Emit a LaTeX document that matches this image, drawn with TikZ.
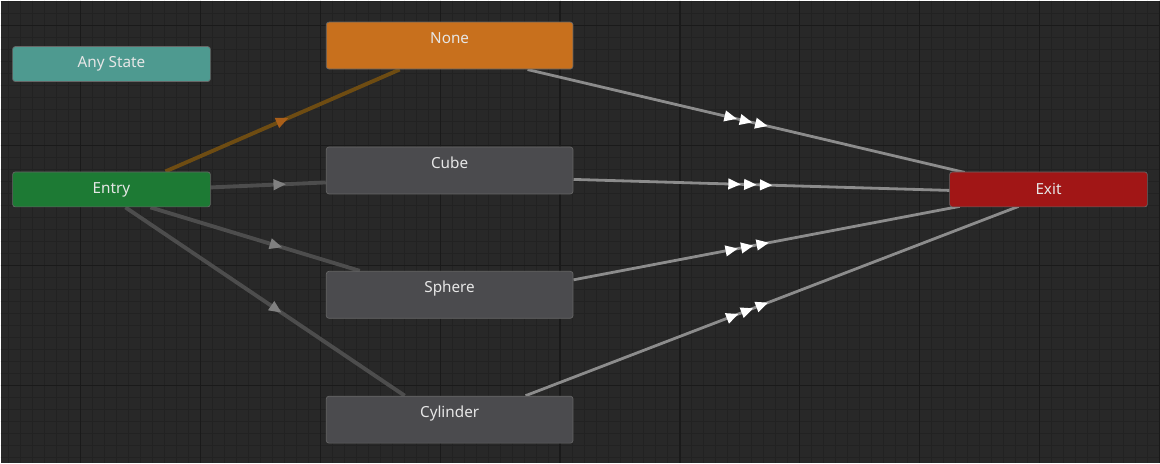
\documentclass[tikz,border=0pt]{standalone}
\usepackage{fontspec}
\setmainfont{Noto Sans}
\usetikzlibrary{calc,decorations.markings}
\definecolor{bg}{HTML}{282828}
\definecolor{gmin}{HTML}{222222}
\definecolor{gmaj}{HTML}{1A1A1A}
\definecolor{teal}{HTML}{4E9A90}
\definecolor{entryc}{HTML}{1D7A34}
\definecolor{nonec}{HTML}{C8701D}
\definecolor{grayc}{HTML}{4B4B4E}
\definecolor{exitc}{HTML}{A11616}
\definecolor{txt}{HTML}{E6E6E6}
\definecolor{edgel}{HTML}{8C8C8C}
\definecolor{edged}{HTML}{4D4D4D}
\definecolor{edgeo}{HTML}{6E4C12}
\begin{document}
\begin{tikzpicture}[x=0.02cm,y=-0.02cm,
  state/.style={draw=black!60,line width=0.4pt,rounded corners=1.5pt,minimum height=0.7cm,minimum width=3.96cm,font=\fontsize{8.7}{10}\selectfont,text=txt,inner sep=0pt},
  big/.style={state,minimum height=0.94cm,minimum width=4.94cm,text depth=0.31cm},
  dtri/.style 2 args={decoration={markings,mark=at position #1 with {\fill[#2] (3.5pt,0)--(-3.5pt,3.2pt)--(-3.5pt,-3.2pt)--cycle;}},postaction={decorate}},
  triple/.style={decoration={markings,
     mark=at position #1 with {\fill[white] (-5.5pt,0)--(-12.5pt,3.2pt)--(-12.5pt,-3.2pt)--cycle;
       \fill[white] (3.5pt,0)--(-3.5pt,3.2pt)--(-3.5pt,-3.2pt)--cycle;
       \fill[white] (12.5pt,0)--(5.5pt,3.2pt)--(5.5pt,-3.2pt)--cycle;}},postaction={decorate}},
  ]
\fill[bg] (0,0) rectangle (1160,463);
\foreach \x in {8,20,...,1160} \draw[gmin,line width=0.5pt] (\x,0)--(\x,463);
\foreach \y in {1,13,...,463} \draw[gmin,line width=0.5pt] (0,\y)--(1160,\y);
\foreach \x in {80,200,...,1160} \draw[gmaj,line width=0.7pt] (\x,0)--(\x,463);
\foreach \y in {25,145,...,463} \draw[gmaj,line width=0.7pt] (0,\y)--(1160,\y);
\useasboundingbox (0,0) rectangle (1160,463);

\path (111,63.5) coordinate (any) (111,189) coordinate (entry) (1049,189) coordinate (exit)
  (449.5,45) coordinate (none) (449.5,170) coordinate (cube) (449.5,294.5) coordinate (sphere) (449.5,419.5) coordinate (cyl);
\path[line width=2.2pt]
  (entry) ++(54,-18) coordinate (eN)
  (entry) ++(99,-2) coordinate (eE)
  (entry) ++(39,18) coordinate (eS1)
  (entry) ++(14,18) coordinate (eS2);

\draw[edgeo,line width=2.2pt,dtri={0.5}{nonec!85!black}] (eN) -- ($(none)+(-50,24)$);
\draw[edged,line width=2.2pt,dtri={0.6}{gray}] (eE) -- ($(cube)+(-124,12)$);
\draw[edged,line width=2.2pt,dtri={0.6}{gray}] (eS1) -- ($(sphere)+(-90,-24)$);
\draw[edged,line width=2.2pt,dtri={0.54}{gray}] (eS2) -- ($(cyl)+(-45,-24)$);
\draw[edgel,line width=1.6pt,triple=0.5] ($(none)+(78,24)$) -- ($(exit)+(-84,-17)$);
\draw[edgel,line width=1.6pt,triple=0.47] ($(cube)+(124,9)$) -- ($(exit)+(-99,1)$);
\draw[edgel,line width=1.6pt,triple=0.45] ($(sphere)+(124,-15)$) -- ($(exit)+(-89,17)$);
\draw[edgel,line width=1.6pt,triple=0.45] ($(cyl)+(76,-24)$) -- ($(exit)+(-30,17)$);

\node[state,fill=teal] (anyS) at (any) {Any State};
\node[state,fill=entryc] (entryS) at (entry) {Entry};
\node[state,fill=exitc] (exitS) at (exit) {Exit};
\node[big,fill=nonec] (noneS) at (none) {None};
\node[big,fill=grayc] (cubeS) at (cube) {Cube};
\node[big,fill=grayc] (sphereS) at (sphere) {Sphere};
\node[big,fill=grayc] (cylS) at (cyl) {Cylinder};
\end{tikzpicture}
\end{document}
